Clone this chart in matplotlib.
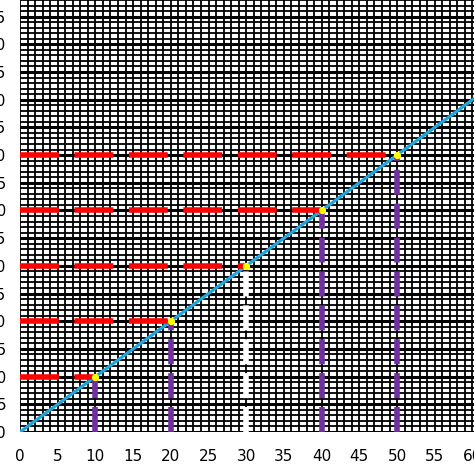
import matplotlib
matplotlib.use("Agg")
import matplotlib.pyplot as plt
import numpy as np

points_x = [10, 20, 30, 40, 50]
points_y = [10, 20, 30, 40, 50]
vline_colors = ["#7030a0", "#7030a0", "white", "#7030a0", "#7030a0"]
xticks = list(range(0, 65, 5))
yticks = list(range(0, 80, 5))

fig = plt.figure(figsize=(4.74, 4.74), dpi=100)
W = 474
ax = fig.add_axes([20/W, 42/W, 1 - 20/W, 1 - 42/W])
ax.set_xlim(0, 60.2)
ax.set_ylim(0, 78)
for v in np.arange(0, 61, 1):
    ax.axvline(v, color="black", lw=1.3, zorder=1)
for h in np.arange(0, 79, 1):
    ax.axhline(h, color="black", lw=1.3, zorder=1)
for h in yticks:
    ax.axhline(h, color="black", lw=2.2, zorder=1)
ax.plot([0, 60.2], [0, 60.2], color="#1fa8e0", lw=2.3, zorder=3)
for x, y, c in zip(points_x, points_y, vline_colors):
    ax.plot([0, x], [y, y], color="red", lw=4, dashes=(7, 2.8), zorder=4)
    ax.plot([x, x], [0, y], color=c, lw=4, dashes=(4.5, 1.6), zorder=4)
ax.scatter(points_x, points_y, color="yellow", s=18, zorder=5)
ax.set_xticks(xticks)
ax.set_yticks(yticks)
ax.tick_params(axis="x", labelsize=11, length=0, pad=12)
ax.tick_params(axis="y", labelsize=11, length=0, pad=10)
for s in ax.spines.values():
    s.set_visible(False)
fig.savefig("out.png", dpi=100)
